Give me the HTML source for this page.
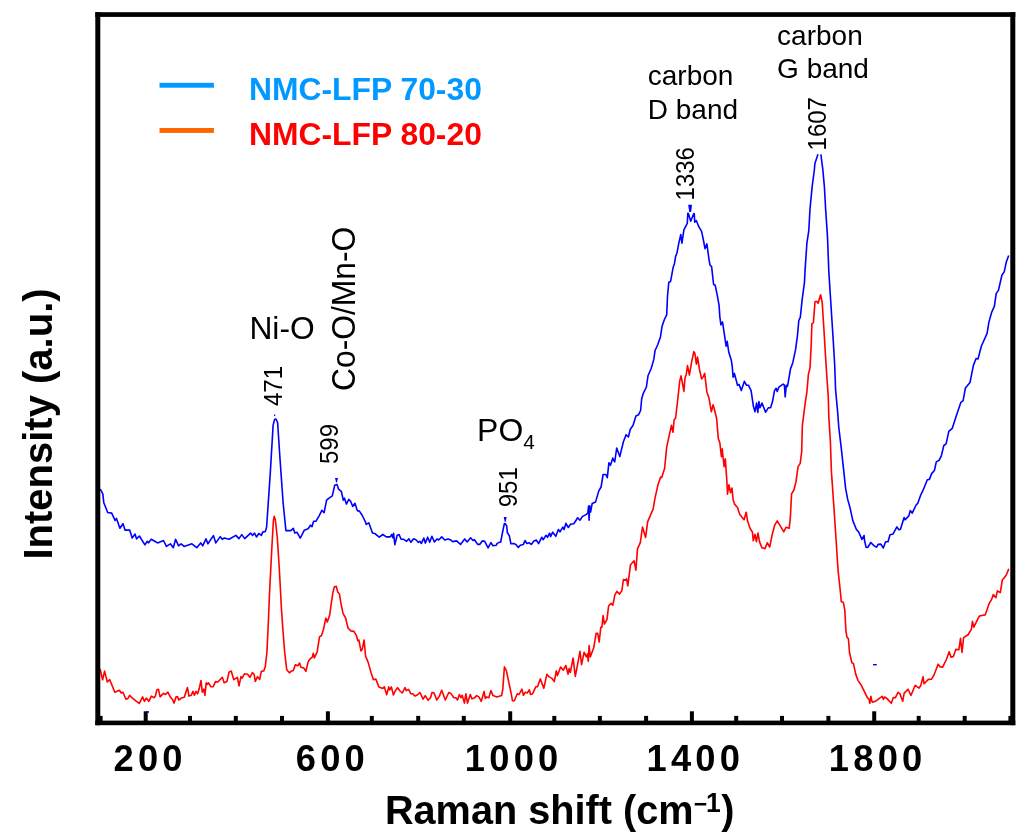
<!DOCTYPE html>
<html lang="en"><head><meta charset="utf-8"><title>Raman spectra NMC-LFP</title>
<style>
html,body{margin:0;padding:0;background:#fff;}
body{width:1024px;height:838px;overflow:hidden;}
svg{display:block;}
svg text{font-family:"Liberation Sans",Arial,Helvetica,sans-serif;fill:#000;}
.b{font-weight:bold;}
</style></head><body>
<svg width="1024" height="838" viewBox="0 0 1024 838">
<rect width="1024" height="838" fill="#fff"/>
<polyline fill="none" stroke="#ff0000" stroke-width="1.6" stroke-linejoin="round" stroke-linecap="round" points="100.2,669.5 102.6,679.7 104.6,671.1 107.3,682.0 109.8,679.7 114.8,692.2 119.4,690.3 121.3,693.0 122.9,692.2 126,699.2 128.0,698.4 129.6,695.3 131.9,697.7 135.8,700.8 139.3,703.4 142.6,696.9 144.4,701.3 146.3,698.1 148.8,701.3 151.5,696.1 154.1,697.7 155.4,696.1 156.9,689.8 158.5,689.4 160.1,696.9 163.5,693.4 165.5,694.5 167.9,692.2 170.2,696.9 172.3,699.2 174.1,703.1 176,696.9 177.6,696.9 178.8,700 181.2,698.1 184.3,697.2 187.4,687.5 189.0,696.1 191.3,695.3 192.9,691.4 194.4,695.3 196,691.4 197.6,693.8 199.1,689.1 201,680.5 202.3,692.2 203.8,689.1 204.9,695.3 206.2,682.8 207.3,684.4 208.5,682.8 210.8,686.7 213.2,686.7 215.5,681.6 217.9,682.0 222.3,677.3 224.1,682.8 226.9,681.6 229.1,671.9 231.2,671.1 233.8,679.7 237.4,677.3 239.0,685.9 241,676.6 242.1,678.1 244.4,673.8 247.6,674.2 249.9,677.3 252.4,672.5 254.1,674.2 255.3,681.5 257.5,676.7 259.7,679.4 261.3,671.3 263.8,670.9 265.3,666.6 266.9,652.5 268.4,621.3 269.5,593.8 271.9,546.9 273.4,520.3 274.2,516.4 275.3,519.5 277.3,537.5 279.4,570.3 281.3,606.3 282.5,624.4 284.7,652.5 286.7,669.7 289.4,672.8 291.0,671.3 293.4,670.5 295.3,664.7 297.7,665.8 299.7,663.1 300.8,667.3 303.9,668.1 305.9,671.3 308.1,661.9 310.2,658.8 312.2,657.2 313.3,653.3 314.4,658.0 317.2,651.7 319.5,636.9 321.6,635.3 323.4,629.8 325.8,618.1 327.3,622.0 329.7,615 331.3,603.1 333.1,591.4 334.4,586.7 336.3,586.4 337.8,592.2 339.4,593.8 340.9,603.1 343.0,613.3 345.6,618.0 348.0,628.0 350.8,630.9 353.9,631.4 356.3,635.3 357.8,640.8 358.9,640 360.9,650.9 362.2,649.4 364.1,640 365.6,656.4 368.0,661.9 371.1,672.8 373.4,679.8 375.8,679.1 378.9,686.9 382.8,688.4 384.4,686.9 386.7,694.7 388.8,686.9 389.8,690 391.4,686.9 393.4,695 395.3,690.8 397.7,687.7 400,691.0 402.3,693.0 405,687.5 406.3,690.6 408.6,689.4 410.9,693.8 412.8,693.8 414.8,696.1 418.0,694.5 420,692.5 423.1,699.2 425.3,695.6 428.1,700.3 430.5,697.7 432.0,692.5 434.1,693.0 436.7,700 439.4,696.1 441.7,690.3 445.3,700 448.8,692.5 450.8,693.4 453.9,697.7 455.9,697.7 457.5,700 459.4,694.5 460.9,697.7 462.2,695.3 464.4,703.1 465.9,693.8 467.5,703.1 470.3,694.5 471.9,698.8 474.2,698.1 476.6,695.6 478.9,696.9 481.3,701.3 484.1,691.4 485.2,698.4 486.7,696.9 488.8,697.7 490.9,690.6 493.0,695.6 496.9,696.9 501.6,695.6 502.8,689.1 504.4,666.9 506.3,670.3 508.6,681.3 510.9,692.2 512.5,700.8 514.4,700.8 517.2,693.8 519.1,694.5 521.9,689.1 523.4,695.3 525.3,692.2 527.3,693.0 529.4,689.8 530.5,694.5 532.5,693.8 535.9,686.7 537.5,686.7 540.3,678.9 543.8,688.3 546.9,674.2 549.2,676.9 551.6,678.1 554.3,681.6 556.3,670.9 557.5,675.6 560.6,667.0 563.3,670.2 565.9,665.5 568.0,674.1 569.1,668.6 570.3,672.5 573.1,658.1 575.3,676.4 577.8,663.1 580,651.4 581.6,664.7 584.1,652.2 586.3,656.9 587.5,653.8 588.3,661.3 589.1,645.6 590.3,656.9 593.8,647.5 596.1,633.4 597.7,633.4 599.2,642.0 600.8,627.2 601.9,627.2 603.1,615.5 604.4,624.1 607.0,619.4 608.6,606.1 610.9,603.4 612.8,605.3 614.8,595.2 616.9,591.3 619.5,594.1 621.9,590.5 623.4,579.5 625,580.3 626.6,578.8 627.8,585.8 630.5,564.7 634.1,560.8 635.9,570.2 637.5,548.9 640.3,542.7 642.5,527.0 645.6,537.5 647.7,521.6 653.1,509.1 655,498.1 657.8,485.6 660.6,477.0 661.7,477.5 664.6,468.5 666.7,447.2 669.4,434.7 671.4,425.3 673.0,432.3 674.1,419.9 675.6,418.0 677.7,400 679.7,381.3 681.1,375.8 683.9,391.4 685,378.1 686.3,374.2 687.5,365.6 689.4,375 691.7,361.7 693.8,351.6 694.8,353.1 696.4,364.1 697.5,357.0 699.5,369.5 701.6,378.9 703.4,376.6 704.7,373.4 706.9,392.2 708.9,397.7 711.3,411.7 713.1,404.7 715.2,412.5 716.7,419.1 718.3,438.6 719.8,442.5 721.4,456.6 722.2,448.8 724.1,466.7 725.3,458.9 726.9,481.6 727.5,494.2 728.9,484.8 730.5,492.7 732.0,488.0 733.1,499.7 734.7,504.4 737.5,507.5 739.8,514.5 744.1,519.7 746.2,512.2 747.7,521.6 750.1,528.5 752.4,532.0 753.3,540.8 755.0,534.3 756.4,541.6 758.0,533.0 759.5,541.6 761.9,547.8 765,548.6 767.3,542.8 769.7,547.0 772.0,535.3 774.7,525.2 777.2,520.9 779.8,525.2 783.8,531.9 786.1,527.2 789.2,528.3 790.3,518.1 791.6,493.9 793.9,490 795.9,482.2 798.1,466.6 800.2,463.4 801.7,451.7 802.3,425.9 805.5,400.9 806.8,393.0 808.4,374.4 810,368.1 811.3,343.1 811.9,323.6 813.4,322.8 815,301.7 816.6,301.3 818.1,303.3 820.6,294.7 822.2,302.5 823.8,327.5 825.3,352.5 826.9,377.5 828.2,395.9 828.9,418.1 830.4,442 831.4,471.3 833.8,505.6 836.1,540 838.1,570.9 840.2,590 841.3,601.7 843.3,602.2 844.8,610.3 845.9,630.6 846.9,636.9 848.4,638.8 849.5,652.5 851.9,662.7 853.4,663.4 855.8,674.4 858.1,680.6 861.3,685.3 864.4,691.6 867.5,697.8 869.1,699.4 869.8,703.3 870.9,696.3 872.2,702.2 876.1,700.9 880,697.8 882.3,696.3 883.4,699.4 884.7,697.0 887.0,698.6 891.3,703.3 893.3,697.5 895.3,697.8 898.0,692.3 900,693.9 902.7,701.3 904.2,693.1 908.1,689.2 910.9,695.5 915.2,685.3 919.1,688.1 920.9,685.3 923.0,676.7 924.1,683.8 928.4,679.4 931.6,679.1 933.9,675.2 938.1,664.2 940.2,666.9 942.5,667.3 946.4,659.5 949.1,651.7 951.1,657.2 953.4,656.4 955.8,649.4 958.9,649.7 960.5,638.4 962.0,652.5 963.6,637.7 968.3,634.5 971.4,629.1 972.5,621.3 973.8,627.2 976.8,621.2 979.3,616.1 982.7,615.3 985.2,614.9 987.1,609.5 989.1,603.6 991.5,599.7 993.3,594.6 995.9,597.7 997.4,590.9 1000.3,592.6 1002.3,580.1 1004.2,577.7 1006.2,575.2 1008.6,569.4"/>
<polyline fill="none" stroke="#0000ff" stroke-width="1.6" stroke-linejoin="round" stroke-linecap="butt" points="100.3,489.0 102.8,493.9 103.8,502.7 107.7,512.5 111.7,513.1 115.0,520.4 116.5,518.4 119.9,528.2 123.0,523.7 125.0,530.1 129.7,530.1 132.2,538.0 135.1,534.1 136.5,538.9 139.4,536.0 144.9,544.8 147.3,541.3 148.4,542.9 151.2,539.3 154.7,541.3 157.6,542.9 163.5,540.5 166.4,546.4 170.4,543.8 173.3,547.7 175.6,539.3 178.6,545.8 181.1,543.8 184.1,546.4 191.9,543.8 196.8,547.7 200.7,542.9 202.7,545.8 206.0,538.9 207.9,543.8 213.4,535.6 215.8,542.9 220.3,536.6 222.2,539.3 224.2,538.0 229.1,539.3 235.9,535.4 238.9,538.6 241.8,534.6 244.7,538.6 250.6,533.1 252.6,535.4 254.5,533.1 256.5,537.0 258.8,533.5 261.4,535.4 262.7,532.1 265.3,531.5 266.6,527.2 270.2,474.4 273.1,425.4 274.5,419.6 276.0,419.0 277.6,422.5 280.0,458.7 283.1,502.5 285.9,530.6 290.9,530.6 293.3,528.3 294.8,533.0 296.9,532.2 300.3,538.1 304.2,530.3 308.1,528.8 310.5,525.2 312.0,526.7 313.6,521.3 315.9,521.3 319.1,515.8 321.9,510.3 324.1,512.7 326.6,500.2 328.4,498.6 332.3,495.9 334.7,485.3 337.0,484.5 338.6,489.2 341.3,491.3 343.3,500.2 344.4,498.1 346.4,504.1 348.8,499.4 350.6,501.3 352.7,506.4 355.0,503.3 357.3,510.6 359.4,511.1 362.0,515.0 365.2,521.3 366.3,524.4 368.8,522.8 372.5,533.0 375.3,533.8 379.2,537.2 382.8,534.5 386.3,536.9 390.2,536.9 391.7,534.5 392.8,537.7 393.6,533.4 394.8,544.7 397.2,535.3 399.1,534.5 401.1,539.2 403.4,539.2 406.6,541.3 408.9,538.8 410.9,542.3 413.6,538.8 415.9,539.7 418.3,542.3 419.8,541.3 421.4,543.4 423.8,538.1 425.3,543.1 427.7,537.2 429.7,542.3 431.9,536.3 434.4,542.0 437.0,538.9 438.6,540.0 441.7,536.9 444.8,540.0 448.0,538.9 450.3,539.7 452.7,541.6 456.6,540.9 460.5,544.4 464.7,538.9 467.2,542.0 470.6,537.8 473.0,540.5 474.5,539.7 477.7,544.4 479.7,544.4 482.3,540.9 484.7,541.3 488.1,547.8 490.9,542.5 492.8,545.6 496.4,545.2 497.1,543.4 498.8,542.6 500.7,542.0 502.4,533.0 504.4,523.5 505.3,523.8 506.7,525.9 507.3,532.5 509.4,535.9 510.9,543.8 513.6,543.6 515.9,544.4 518.3,547.5 520.3,545.2 523.4,544.4 525.0,540.5 526.9,543.6 529.2,542.8 531.3,544.4 533.9,540.9 536.3,540.0 538.6,543.6 541.7,537.3 543.3,539.7 545.9,535.3 547.5,537.3 549.5,533.1 550.6,536.6 552.7,532.2 555.8,536.3 558.4,529.5 560.0,531.9 562.8,527.2 564.1,529.5 565.9,523.3 568.3,527.5 570.6,524.1 573.8,523.8 577.7,517.8 580.0,520.2 582.3,516.6 586.3,514.4 587.8,513.1 588.6,506.1 589.1,520.2 589.7,505.8 590.6,512.0 592.2,503.4 595.6,501.9 598.8,490.9 601.1,487.0 603.1,474.5 605.8,474.5 607.3,477.7 608.9,462.8 610.5,465.2 612.8,458.1 614.7,462.0 616.7,448.0 619.8,456.6 623.4,441.7 626.1,434.7 628.4,437.0 630.3,429.2 633.1,425.3 635.9,415.9 638.6,414.7 640.6,410.5 641.7,398.8 643.3,393.3 646.4,387.0 648.0,375.8 651.1,368.8 653.8,359.4 655,350.8 657.8,344.5 660.5,336.7 662.0,326.6 664.4,319.5 666.7,314.8 667.5,296.3 668.8,282.2 670.6,281.4 673.0,268.1 674.5,263.4 675.6,256.4 676.9,253.3 678.8,243.1 680.8,234.5 681.9,243.1 683.9,229.8 686.6,224.6 687.3,223.3 687.8,213.3 688.4,213.5 690.7,221.3 693.8,213.5 694.3,213.8 694.7,222.1 696.3,220.5 698.8,226.7 701.6,231.4 703.4,240 705,248.6 706.9,243.9 708.9,258.8 710,265 711.6,266.6 713.6,284.5 715.2,285.3 717.5,296.3 719.1,305.6 719.8,316.4 720.9,325 722.5,321.9 724.5,335.2 726.1,346.1 727.2,341.4 728.8,352.3 731.3,360.2 732.3,367.2 733.1,377.3 734.4,373.4 737.5,385.2 739.1,384.4 741.3,390.6 744.4,381.3 746.4,385.2 748.4,385.2 751.1,390.6 753.4,406.3 755,411.7 756.6,403.1 757.8,412.5 758.9,401.6 760,407.8 762.0,403.1 765.6,412.2 768.3,407.8 770.6,407.8 772.5,401.6 774.5,390.6 776.1,388.3 777.2,391.4 778.8,387.2 783.1,384.1 784.4,385.2 785.2,396.9 786.3,385.2 787.3,386.5 788.1,383.0 790.5,368.9 792.8,362.7 795.6,349.4 797.5,335.3 798.8,320.5 800.3,317.3 802.2,299.4 804.5,282.2 805,270.9 806.9,243.1 808.8,230.6 810,208.8 812.3,185.3 814.3,170.5 814.9,163.4 818.0,154.3"/>
<polyline fill="none" stroke="#0000ff" stroke-width="1.6" stroke-linejoin="round" stroke-linecap="butt" points="820.9,154.3 821.7,160.9 822.8,169.2 824.4,186.9 825.6,208.8 827.5,236.9 828.8,270.9 830,290 831.9,319.7 833.4,343.1 834.7,365 835.6,390 837.5,410.3 838.8,427.5 841.4,449.4 843.8,471.3 845.6,488.4 847.7,499.4 850.3,508.8 852.8,520.6 856.3,529.2 858.8,532.3 861.9,539.4 864.1,535.5 864.5,540.2 866.1,547.2 867.7,547.5 870.8,542.5 873.9,545.6 876.6,547.2 878.1,544.4 880.9,544.1 883.3,548.0 885.6,541.7 888.0,541.7 890,534.7 893.1,533.9 896.9,526.9 898.9,529.7 900.5,529.2 904.1,517.5 905.2,519.8 908.8,515.9 910.3,510.5 912.2,513.1 916.1,505 917.7,503.4 920.8,494.8 923.1,490.2 927.3,479.8 929.4,479.4 931.6,473.6 934.4,470.5 936.3,461.9 939.1,460.3 941.4,455.6 943.8,445.5 946.1,443.9 948.8,431.4 952.3,428.3 956.3,415.8 960.9,402.3 963.1,400.7 965.4,388.1 970.0,382.5 973.4,365.4 976.1,358.5 978.0,359.0 981.4,346.0 987.1,333.4 988.9,322.1 991.6,312.5 994.4,306.1 996.2,293.6 998.5,290.1 1001.9,275.3 1004.2,271.9 1006.4,261.7 1008.7,255.5"/>
<g fill="#0000ff"><rect x="274" y="414.5" width="1.2" height="1.6"/><path d="M335 477.9h3l-1.1 4.6h-0.8z"/><path d="M503.7 516.9h3l-1.1 5h-0.8z"/><path d="M688.2 204.7h3.8l-0.9 7.4h-1.9z"/><rect x="873" y="664" width="3.8" height="1.4"/></g>
<g fill="#000"><rect x="95.3" y="12.2" width="5" height="713"/><rect x="95.3" y="12.2" width="920" height="4.7"/><rect x="1010.3" y="12.2" width="5.0" height="713"/><rect x="95.3" y="720.6" width="920" height="4.6"/><rect x="98.6" y="715.9" width="4" height="5.5"/><rect x="143.7" y="711.3" width="4" height="10"/><rect x="188.0" y="715.9" width="4" height="5.5"/><rect x="233.8" y="715.9" width="4" height="5.5"/><rect x="280.0" y="715.9" width="4" height="5.5"/><rect x="325.9" y="711.3" width="4" height="10"/><rect x="369.8" y="715.9" width="4" height="5.5"/><rect x="416.2" y="715.9" width="4" height="5.5"/><rect x="461.8" y="715.9" width="4" height="5.5"/><rect x="508.2" y="711.3" width="4" height="10"/><rect x="552.3" y="715.9" width="4" height="5.5"/><rect x="597.9" y="715.9" width="4" height="5.5"/><rect x="644.1" y="715.9" width="4" height="5.5"/><rect x="689.9" y="711.3" width="4" height="10"/><rect x="734.2" y="715.9" width="4" height="5.5"/><rect x="780.0" y="715.9" width="4" height="5.5"/><rect x="826.4" y="715.9" width="4" height="5.5"/><rect x="872.2" y="711.3" width="4" height="10"/><rect x="916.7" y="715.9" width="4" height="5.5"/><rect x="962.7" y="715.9" width="4" height="5.5"/><rect x="1008.4" y="715.9" width="4" height="5.5"/></g>
<rect x="146.3" y="711.2" width="2.7" height="1.6" fill="#0000c8"/>
<text class="b" transform="translate(113.5 771.3) scale(1 1.04)" font-size="36.3" letter-spacing="4.25">200</text><text class="b" transform="translate(295.7 771.3) scale(1 1.04)" font-size="36.3" letter-spacing="4.25">600</text><text class="b" transform="translate(464.8 771.3) scale(1 1.04)" font-size="36.3" letter-spacing="4.25">1000</text><text class="b" transform="translate(646.5 771.3) scale(1 1.04)" font-size="36.3" letter-spacing="4.25">1400</text><text class="b" transform="translate(828.8 771.3) scale(1 1.04)" font-size="36.3" letter-spacing="4.25">1800</text>
<text class="b" transform="translate(384.9 823.6) scale(1 1.02)" font-size="39.7">Raman shift (cm<tspan font-size="23" dy="-11.5" dx="0.2">−</tspan><tspan font-size="26.5" dx="-1.2">1</tspan><tspan dy="11.5" dx="0.6">)</tspan></text>
<text class="b" transform="translate(51.9 559.5) rotate(-90) scale(1 1.02)" font-size="40">Intensity (a.u.)</text>
<rect x="159.5" y="82.8" width="54.4" height="4.9" fill="#0099ff"/><rect x="159.5" y="128" width="54.4" height="4.9" fill="#ff6600"/><text class="b" transform="translate(248.9 100) scale(1.028 1.03)" font-size="31" style="fill:#0099ff">NMC-LFP 70-30</text><text class="b" transform="translate(248.9 145.4) scale(1.028 1.03)" font-size="31" style="fill:#ff0000">NMC-LFP 80-20</text>
<text transform="translate(249.4 338.5) scale(1.025 1.03)" font-size="31">Ni-O</text><text transform="translate(354.7 391) rotate(-90) scale(1 1.04)" font-size="31.8">Co-O/Mn-O</text><text transform="translate(282 406) rotate(-90) scale(1 1.04)" font-size="24">471</text><text transform="translate(337.8 464) rotate(-90) scale(1 1.04)" font-size="24">599</text><text transform="translate(477.1 441) scale(1.03 1.03)" font-size="31">PO<tspan font-size="20.2" dy="7.5">4</tspan></text><text transform="translate(516.8 507.3) rotate(-90) scale(1 1.04)" font-size="24">951</text><text x="647.8" y="84.5" font-size="28">carbon</text><text x="647.8" y="118.6" font-size="28">D band</text><text transform="translate(694.3 200.4) rotate(-90) scale(1 1.04)" font-size="24">1336</text><text x="777.1" y="44.8" font-size="28">carbon</text><text x="777.1" y="77.8" font-size="28">G band</text><text transform="translate(826 150.4) rotate(-90) scale(1 1.04)" font-size="24">1607</text>
</svg>
</body></html>
